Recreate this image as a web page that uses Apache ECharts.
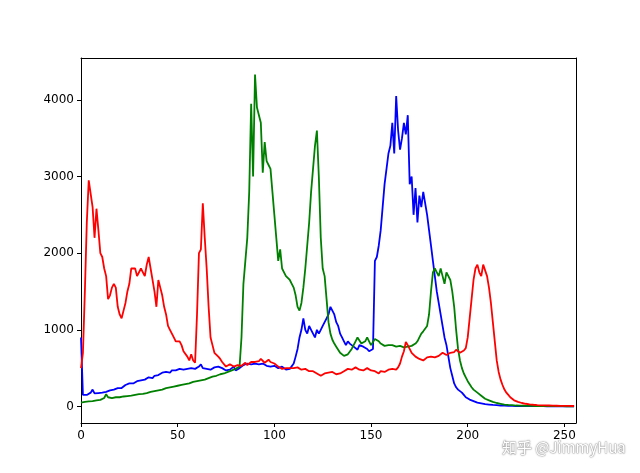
<!DOCTYPE html>
<html><head><meta charset="utf-8">
<script src="https://cdn.jsdelivr.net/npm/echarts@6/dist/echarts.min.js"></script>
<style>html,body{margin:0;padding:0;background:#fff}#c{width:640px;height:473px}</style>
</head><body><div id="c"></div>
<script>
const blue = [900,150,130,150,140,180,220,170,180,175,
170,180,170,190,200,210,200,220,230,240,
250,240,260,280,270,300,310,300,320,330,
320,340,360,350,370,380,390,370,400,410,
410,420,440,430,450,460,440,470,480,470,
480,490,470,480,500,490,480,500,510,490,
500,520,550,500,480,490,470,480,500,510,
500,520,530,500,480,470,460,480,500,520,
470,480,500,520,540,550,560,540,550,560,
560,570,550,540,560,550,530,540,520,510,
530,520,500,490,520,500,480,500,490,500,
560,650,750,900,1000,1150,1000,950,1050,1000,
950,900,1000,950,1000,1050,1100,1150,1200,1300,
1250,1200,1100,1050,950,900,850,800,850,820,
800,780,760,740,800,820,780,760,750,720,
720,750,1900,1950,2100,2300,2600,2900,3100,3300,
3400,3700,3300,4050,3600,3350,3500,3700,3550,3800,
2900,3000,2500,2850,2400,2750,2600,2800,2650,2500,
2300,2100,1900,1700,1500,1350,1200,1050,900,800,
650,500,400,300,250,220,200,180,150,120,
100,90,80,70,60,50,45,40,35,30,
28,25,22,20,18,16,14,12,10,10,
9,8,8,7,7,6,6,5,5,5,
4,4,4,4,3,3,3,3,3,3,
2,2,2,2,2,2,2,2,2,2,
2,2,2,2,1,1];
const green = [50,55,60,60,65,70,70,75,80,80,
85,90,110,160,120,110,110,115,120,120,
120,125,130,130,135,140,140,150,150,155,
160,160,165,170,175,180,190,200,200,210,
210,215,220,230,240,240,250,260,260,270,
270,280,280,290,290,300,300,310,320,320,
330,340,340,350,350,360,370,380,390,400,
400,410,420,430,430,440,450,460,470,480,
490,500,520,900,1600,1900,2200,2800,3950,3000,
4330,3900,3900,3700,3050,3450,3200,3150,3100,2800,
2500,2200,1900,2050,1800,1750,1700,1720,1650,1600,
1550,1450,1300,1250,1350,1550,1800,2100,2400,2800,
3100,3400,3600,3000,2200,1800,1700,1400,1100,950,
870,820,780,740,700,680,660,670,680,700,
750,800,850,900,880,820,800,850,900,850,
800,820,880,900,850,820,800,790,780,800,
820,800,790,780,800,790,780,770,760,780,
800,790,780,820,850,900,950,980,1000,1050,
1200,1500,1750,1800,1750,1700,1800,1700,1600,1750,
1700,1650,1500,1300,1000,750,600,500,430,380,
330,290,250,220,200,180,160,140,120,100,
90,80,70,60,50,45,40,35,30,25,
22,20,18,16,14,12,10,10,9,9,
8,8,7,7,6,6,6,5,5,5,
5,4,4,4,4,3,3,3,3,3,
3,2,2,2,2,2];
const red = [500,700,1500,2400,2950,2970,2600,2200,2580,2300,
2000,1950,1800,1700,1400,1450,1550,1600,1550,1300,
1200,1150,1250,1350,1500,1600,1800,1780,1800,1700,
1720,1800,1750,1700,1850,1950,1800,1650,1500,1300,
1650,1550,1450,1300,1200,1050,1000,950,900,850,
850,850,800,720,700,650,600,680,600,570,
1200,2000,2050,2650,2200,1800,1300,900,800,700,
720,650,620,580,560,520,500,550,560,520,
500,540,560,530,550,570,540,560,580,600,
580,600,590,620,600,570,590,610,580,560,
560,540,520,500,490,510,500,480,500,520,
500,490,510,500,480,470,490,480,460,470,
460,450,430,420,400,410,430,420,440,460,
450,430,420,410,430,440,460,470,490,500,
480,500,510,490,480,500,470,490,500,480,
470,450,460,440,430,460,470,450,460,480,
470,490,500,480,510,560,650,720,840,800,
780,700,680,650,640,620,610,600,620,640,
630,650,660,640,650,660,680,700,690,670,
680,700,720,710,740,720,700,710,730,760,
900,1150,1400,1650,1800,1850,1750,1700,1850,1850,
1700,1550,1350,1100,850,600,450,350,280,220,
180,150,120,100,80,70,60,50,45,40,
35,30,28,25,22,20,18,16,15,14,
13,12,12,11,10,10,9,9,8,8,8,7,7,7,6,6];
const xTicks = [0,50,100,150,200,250];
const yTicks = [0,1000,2000,3000,4000];
const pts = a => a.map((v,i)=>[i,v]);
const font = {fontFamily:'DejaVu Sans',fontSize:12,color:'#000',formatter:v=>String(v)};
const ch = echarts.init(document.getElementById('c'));
const ln = (d,c)=>({type:'line',data:pts(d),showSymbol:false,symbol:'none',lineStyle:{color:c,width:1.8},itemStyle:{color:c},animation:false});
const axLine = {show:true,lineStyle:{color:'#000',width:1}};
ch.setOption({
  animation:false,
  grid:{left:81,right:64,top:58,bottom:50},
  xAxis:[{type:'value',min:0,max:256,position:'bottom',axisLine:{...axLine,onZero:false},splitLine:{show:false},
    axisTick:{show:true,customValues:xTicks,length:4,lineStyle:{color:'#000'}},
    axisLabel:{customValues:xTicks,...font,margin:7}},
    {type:'value',min:0,max:256,position:'top',axisLine:{...axLine,onZero:false},splitLine:{show:false},axisTick:{show:false},axisLabel:{show:false}}],
  yAxis:[{type:'value',min:-216,max:4546,position:'left',axisLine:{...axLine,onZero:false},splitLine:{show:false},
    axisTick:{show:true,customValues:yTicks,length:4,lineStyle:{color:'#000'}},
    axisLabel:{customValues:yTicks,...font,margin:7}},
    {type:'value',min:-216,max:4546,position:'right',axisLine:{...axLine,onZero:false},splitLine:{show:false},axisTick:{show:false},axisLabel:{show:false}}],
  series:[ln(blue,'#0000ff'),ln(green,'#008000'),ln(red,'#ff0000')],
  graphic:[{type:'text',right:14,bottom:18,style:{text:'知乎 @JimmyHua',font:'15px "Noto Sans CJK SC"',fill:'#ffffff',stroke:'#bbbbbb',lineWidth:0.6,textShadowColor:'rgba(0,0,0,0.3)',textShadowBlur:2}}]
});
</script></body></html>
